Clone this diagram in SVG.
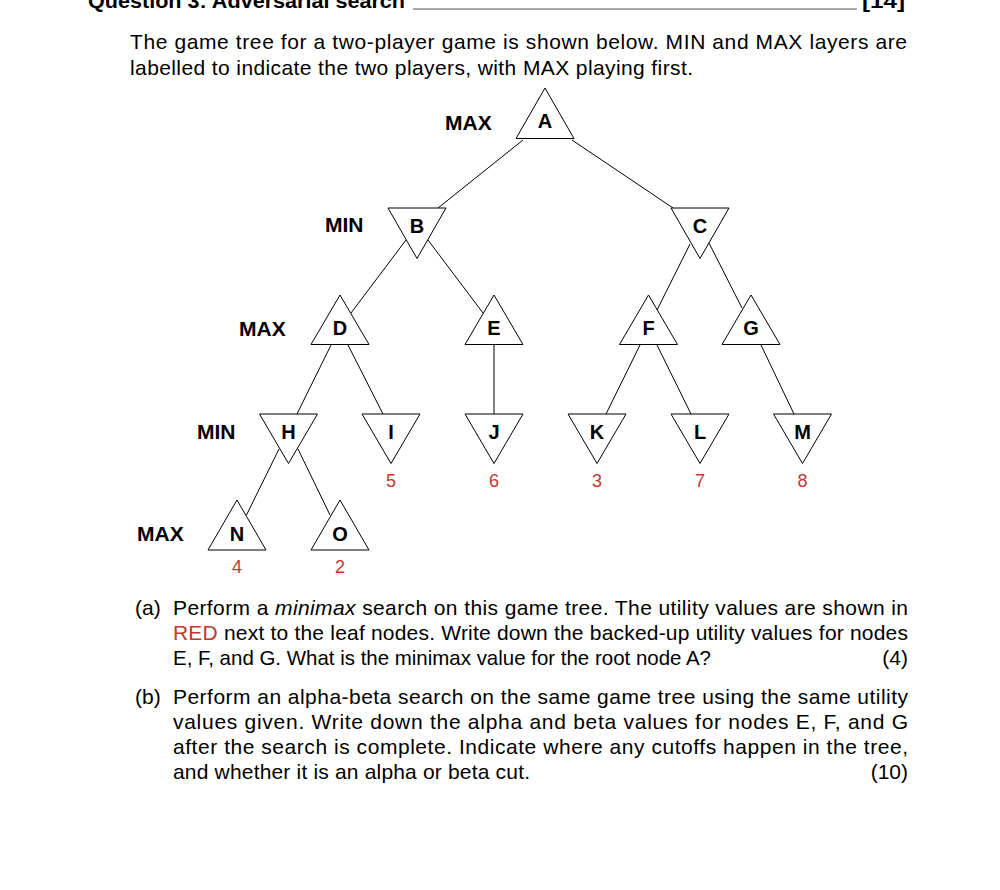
<svg xmlns="http://www.w3.org/2000/svg" width="1000" height="890" viewBox="0 0 1000 890">
<style>
.tri{fill:#fff;stroke:#000;stroke-width:1}
.lbl{font-family:"Liberation Sans",Arial,sans-serif;font-weight:bold;font-size:20px;text-anchor:middle;fill:#000}
.lvl{font-family:"Liberation Sans",Arial,sans-serif;font-weight:bold;font-size:21px;fill:#000}
.val{font-family:"Liberation Sans",Arial,sans-serif;font-size:18px;text-anchor:middle;fill:#c0392b}
.body{font-family:"Liberation Sans",Arial,sans-serif;font-size:21px;fill:#000}
.hdr{font-family:"Liberation Sans",Arial,sans-serif;font-weight:bold;font-size:21px;fill:#000}
.red{fill:#c0392b}
.edge{stroke:#000;stroke-width:1;fill:none}
</style>
<rect width="1000" height="890" fill="#fff"/>
<g id="header">
<text class="hdr" x="88" y="8" textLength="317" lengthAdjust="spacingAndGlyphs">Question 3: Adversarial search</text>
<line x1="413" y1="9" x2="857" y2="9" stroke="#555" stroke-width="1"/>
<text class="hdr" x="862" y="8" textLength="43" lengthAdjust="spacingAndGlyphs">[14]</text>
</g>
<g id="intro">
<text class="body" x="130" y="49" textLength="777" lengthAdjust="spacing">The game tree for a two-player game is shown below.  MIN and MAX layers are</text>
<text class="body" x="130" y="75" textLength="563" lengthAdjust="spacing">labelled to indicate the two players, with MAX playing first.</text>
</g>
<g id="levels">
<text class="lvl" x="445" y="130">MAX</text>
<text class="lvl" x="325" y="232">MIN</text>
<text class="lvl" x="239" y="336">MAX</text>
<text class="lvl" x="197" y="439">MIN</text>
<text class="lvl" x="137" y="541">MAX</text>
</g>
<g id="connectors" class="edge">
<line x1="523" y1="140" x2="438" y2="208"/>
<line x1="572" y1="140" x2="673" y2="208"/>
<line x1="406" y1="240" x2="351" y2="313"/>
<line x1="428" y1="240" x2="483" y2="313"/>
<line x1="690" y1="244" x2="657" y2="310"/>
<line x1="709" y1="243" x2="742" y2="308"/>
<line x1="331" y1="345" x2="297" y2="414"/>
<line x1="348" y1="345" x2="383" y2="414"/>
<line x1="494" y1="345" x2="494" y2="414"/>
<line x1="640" y1="345" x2="606" y2="414"/>
<line x1="657" y1="345" x2="691" y2="414"/>
<line x1="761" y1="345" x2="794" y2="414"/>
<line x1="279" y1="449" x2="246.5" y2="515"/>
<line x1="298" y1="449" x2="330" y2="515"/>
</g>
<g id="node-A"><polygon class="tri" points="545,88 516,138.5 574,138.5"/><text class="lbl" x="545" y="128">A</text></g>
<g id="node-B"><polygon class="tri" points="388,208 446,208 417,258.5"/><text class="lbl" x="417" y="232.5">B</text></g>
<g id="node-C"><polygon class="tri" points="671,208 729,208 700,258.5"/><text class="lbl" x="700" y="232.5">C</text></g>
<g id="node-D"><polygon class="tri" points="340,295 311,344.5 369,344.5"/><text class="lbl" x="340" y="335">D</text></g>
<g id="node-E"><polygon class="tri" points="494,295 465,344.5 523,344.5"/><text class="lbl" x="494" y="335">E</text></g>
<g id="node-F"><polygon class="tri" points="648.5,295 619.5,344.5 677.5,344.5"/><text class="lbl" x="648.5" y="335">F</text></g>
<g id="node-G"><polygon class="tri" points="751,295 722,344.5 780,344.5"/><text class="lbl" x="751" y="335">G</text></g>
<g id="node-H"><polygon class="tri" points="259.5,414 317.5,414 288.5,463.5"/><text class="lbl" x="288.5" y="438.5">H</text></g>
<g id="node-I"><polygon class="tri" points="362,414 420,414 391,463.5"/><text class="lbl" x="391" y="438.5">I</text><text class="val" x="391" y="487">5</text></g>
<g id="node-J"><polygon class="tri" points="465,414 523,414 494,463.5"/><text class="lbl" x="494" y="438.5">J</text><text class="val" x="494" y="487">6</text></g>
<g id="node-K"><polygon class="tri" points="568,414 626,414 597,463.5"/><text class="lbl" x="597" y="438.5">K</text><text class="val" x="597" y="487">3</text></g>
<g id="node-L"><polygon class="tri" points="671,414 729,414 700,463.5"/><text class="lbl" x="700" y="438.5">L</text><text class="val" x="700" y="487">7</text></g>
<g id="node-M"><polygon class="tri" points="773.5,414 831.5,414 802.5,463.5"/><text class="lbl" x="802.5" y="438.5">M</text><text class="val" x="802.5" y="487">8</text></g>
<g id="node-N"><polygon class="tri" points="237,500 208,550 266,550"/><text class="lbl" x="237" y="541">N</text><text class="val" x="237" y="573">4</text></g>
<g id="node-O"><polygon class="tri" points="340,500 311,550 369,550"/><text class="lbl" x="340" y="541">O</text><text class="val" x="340" y="573">2</text></g>
<g id="part-a">
<text class="body" x="135" y="615">(a)</text>
<text class="body" x="173" y="615" textLength="735" lengthAdjust="spacing">Perform a <tspan font-style="italic">minimax</tspan> search on this game tree.  The utility values are shown in</text>
<text class="body" x="173" y="640" textLength="735" lengthAdjust="spacing"><tspan class="red">RED</tspan> next to the leaf nodes. Write down the backed-up utility values for nodes</text>
<text class="body" x="173" y="665" textLength="538" lengthAdjust="spacingAndGlyphs">E, F, and G. What is the minimax value for the root node A?</text>
<text class="body" x="908" y="665" text-anchor="end">(4)</text>
</g>
<g id="part-b">
<text class="body" x="135" y="704">(b)</text>
<text class="body" x="173" y="704" textLength="735" lengthAdjust="spacing">Perform an alpha-beta search on the same game tree using the same utility</text>
<text class="body" x="173" y="729" textLength="735" lengthAdjust="spacing">values given.  Write down the alpha and beta values for nodes E, F, and G</text>
<text class="body" x="173" y="754" textLength="735" lengthAdjust="spacing">after the search is complete.  Indicate where any cutoffs happen in the tree,</text>
<text class="body" x="173" y="779" textLength="357" lengthAdjust="spacing">and whether it is an alpha or beta cut.</text>
<text class="body" x="908" y="779" text-anchor="end">(10)</text>
</g>
</svg>
